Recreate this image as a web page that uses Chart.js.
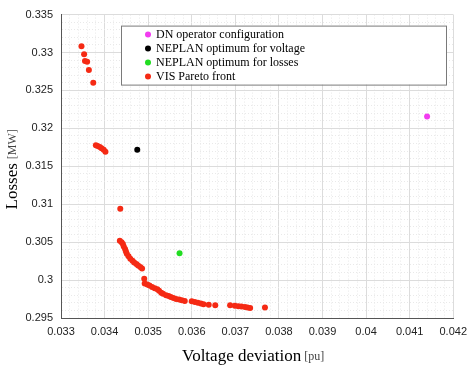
<!DOCTYPE html>
<html>
<head>
<meta charset="utf-8">
<script src="https://cdn.jsdelivr.net/npm/chart.js@4.4.1/dist/chart.umd.min.js"></script>
<style>
  body { margin: 0; background: #fff; }
</style>
</head>
<body>
<canvas id="pareto-graph" width="474" height="366"></canvas>
<script>
const ctx = document.getElementById('pareto-graph')

// series names, in legend order
const seriesNames = ['DN operator configuration', 'NEPLAN optimum for voltage', 'NEPLAN optimum for losses', 'VIS Pareto front']
const seriesColors = ['#f23cf0', '#000000', '#22dd22', '#f52a14']

// single points (voltage deviation [pu], losses [MW])
const dnX = [0.04140]
const dnY = [0.32158]
const neplanVoltageX = [0.03475]
const neplanVoltageY = [0.31718]
const neplanLossesX = [0.03572]
const neplanLossesY = [0.30355]

// VIS Pareto front
const paretoX = [
   0.03347, 0.03353, 0.03355, 0.03360, 0.03364, 0.03374,
   0.03380, 0.03384, 0.03389, 0.03393, 0.03398, 0.03402,
   0.03436,
   0.03435, 0.03439, 0.03442, 0.03444, 0.03447, 0.03449, 0.03451, 0.03455, 0.03459, 0.03464,
   0.03468, 0.03473, 0.03477, 0.03482, 0.03486,
   0.03491, 0.03492, 0.03498, 0.03503, 0.03509, 0.03515, 0.03521, 0.03525, 0.03530, 0.03534,
   0.03541, 0.03547, 0.03552, 0.03558, 0.03564, 0.03571, 0.03577, 0.03584,
   0.03600, 0.03607, 0.03614, 0.03621, 0.03627, 0.03639, 0.03654,
   0.03688, 0.03699, 0.03707, 0.03714, 0.03722, 0.03728, 0.03734, 0.03768
]
const paretoY = [
   0.33083, 0.32978, 0.32887, 0.32878, 0.32769, 0.32603,
   0.31776, 0.31769, 0.31756, 0.31737, 0.31718, 0.31692,
   0.30940,
   0.30519, 0.30500, 0.30474, 0.30442, 0.30410, 0.30378, 0.30346, 0.30314, 0.30282, 0.30256,
   0.30231, 0.30212, 0.30192, 0.30173, 0.30154,
   0.30019, 0.29955, 0.29942, 0.29930, 0.29910, 0.29891, 0.29878, 0.29859, 0.29833, 0.29821,
   0.29801, 0.29789, 0.29776, 0.29763, 0.29750, 0.29744, 0.29733, 0.29724,
   0.29722, 0.29712, 0.29701, 0.29692, 0.29682, 0.29676, 0.29667,
   0.29669, 0.29663, 0.29656, 0.29650, 0.29644, 0.29637, 0.29633, 0.29637
]

const xMin = 0.033, xMax = 0.042
const yMin = 0.295, yMax = 0.335

const toPoints = (xs, ys) => xs.map((x, i) => ({ x: x, y: ys[i] }))

const isMultiple = (v, step) => Math.abs(v / step - Math.round(v / step)) < 1e-6
const fmt = v => String(Math.round(v * 1000) / 1000)

// legend box and axis titles, matlab style
const extras = {
   id: 'extras',
   afterDraw(chart) {
      const c = chart.ctx
      const area = chart.chartArea
      c.save()

      // legend
      const bx = area.left + 60, by = area.top + 11, bw = 325, bh = 59
      c.fillStyle = '#fff'
      c.fillRect(bx, by, bw, bh)
      c.strokeStyle = '#7a7a7a'
      c.lineWidth = 1
      c.strokeRect(bx + 0.5, by + 0.5, bw, bh)
      c.font = '12px "Liberation Serif", "Times New Roman", serif'
      c.textBaseline = 'middle'
      c.textAlign = 'left'
      seriesNames.forEach((name, i) => {
         const yy = by + 9 + i * 14
         c.fillStyle = seriesColors[i]
         c.beginPath()
         c.arc(bx + 27, yy, 3, 0, Math.PI * 2)
         c.fill()
         c.fillStyle = '#000'
         c.fillText(name, bx + 35, yy + 0.5)
      })

      // x title
      const big = '17px "Liberation Serif", "Times New Roman", serif'
      const small = '12px "Liberation Serif", "Times New Roman", serif'
      c.textBaseline = 'alphabetic'
      c.font = big
      const t1 = 'Voltage deviation'
      const w1 = c.measureText(t1).width
      c.font = small
      const t2 = '[pu]'
      const w2 = c.measureText(t2).width
      let sx = (area.left + area.right) / 2 - 4 - (w1 + 3 + w2) / 2
      c.font = big
      c.fillStyle = '#000'
      c.fillText(t1, sx, 361)
      c.font = small
      c.fillStyle = '#444'
      c.fillText(t2, sx + w1 + 3, 360)

      // y title
      c.translate(17, (area.top + area.bottom) / 2 + 3)
      c.rotate(-Math.PI / 2)
      c.font = big
      const t3 = 'Losses'
      const w3 = c.measureText(t3).width
      c.font = small
      const t4 = '[MW]'
      const w4 = c.measureText(t4).width
      sx = -(w3 + 4 + w4) / 2
      c.font = big
      c.fillStyle = '#000'
      c.fillText(t3, sx, 0)
      c.font = small
      c.fillStyle = '#444'
      c.fillText(t4, sx + w3 + 4, -1)

      c.restore()
   }
}

const pointStyle = color => ({
   backgroundColor: color,
   borderColor: color,
   pointRadius: 3,
   pointHoverRadius: 3,
   borderWidth: 0
})

const scatterGraph = new Chart(ctx, {
   type: 'scatter',
   data: {
      datasets: [
         { label: seriesNames[3], data: toPoints(paretoX, paretoY), ...pointStyle(seriesColors[3]) },
         { label: seriesNames[2], data: toPoints(neplanLossesX, neplanLossesY), ...pointStyle(seriesColors[2]) },
         { label: seriesNames[1], data: toPoints(neplanVoltageX, neplanVoltageY), ...pointStyle(seriesColors[1]) },
         { label: seriesNames[0], data: toPoints(dnX, dnY), ...pointStyle(seriesColors[0]) }
      ]
   },
   options: {
      responsive: false,
      animation: false,
      devicePixelRatio: 1,
      layout: { padding: { left: 0, top: 6, right: 17, bottom: 0 } },
      plugins: {
         legend: { display: false },
         tooltip: { enabled: false }
      },
      scales: {
         x: {
            type: 'linear',
            min: xMin,
            max: xMax,
            afterFit: scale => { scale.height = 48 },
            ticks: {
               stepSize: 0.0002,
               autoSkip: false,
               maxRotation: 0,
               padding: 7,
               color: '#222',
               font: { family: '"Liberation Sans", Arial, sans-serif', size: 11 },
               callback: v => isMultiple(v, 0.001) ? fmt(v) : ''
            },
            grid: {
               drawTicks: false,
               color: c => (c.tick && isMultiple(c.tick.value, 0.001)) ? '#dcdcdc' : '#e9e9e9'
            },
            border: {
               color: '#555',
               dash: c => (c.tick && !isMultiple(c.tick.value, 0.001)) ? [1, 2] : []
            }
         },
         y: {
            type: 'linear',
            min: yMin,
            max: yMax,
            afterFit: scale => { scale.width = 61 },
            ticks: {
               stepSize: 0.001,
               autoSkip: false,
               padding: 8,
               color: '#222',
               font: { family: '"Liberation Sans", Arial, sans-serif', size: 11 },
               callback: v => isMultiple(v, 0.005) ? fmt(v) : ''
            },
            grid: {
               drawTicks: false,
               color: c => (c.tick && isMultiple(c.tick.value, 0.005)) ? '#dcdcdc' : '#e9e9e9'
            },
            border: {
               color: '#555',
               dash: c => (c.tick && !isMultiple(c.tick.value, 0.005)) ? [1, 2] : []
            }
         }
      }
   },
   plugins: [extras]
})
</script>
</body>
</html>
